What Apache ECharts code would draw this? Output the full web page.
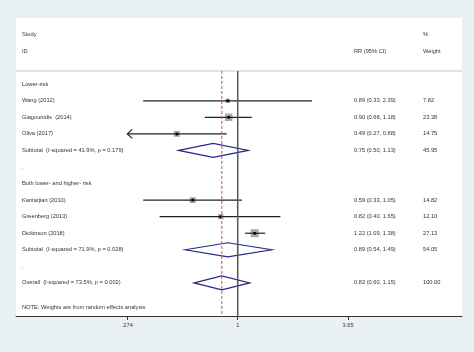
<!DOCTYPE html>
<html>
<head>
<meta charset="utf-8">
<script src="https://cdn.jsdelivr.net/npm/echarts@6/dist/echarts.min.js"></script>
<style>
  html, body { margin: 0; padding: 0; background: #fff; }
  #chart { width: 474px; height: 352px; }
</style>
</head>
<body>
<div id="chart"></div>
<script>
// studies
var studyNames = ['Wang (2012)', 'Giagounidis  (2014)', 'Oliva (2017)', 'Kantarjian (2010)', 'Greenberg (2013)', 'Dickinson (2018)'];
var studyRows = [1, 2, 3, 7, 8, 9];
var studyRR = [0.89, 0.90, 0.49, 0.59, 0.82, 1.22];
var studyLo = [0.33, 0.68, 0.27, 0.33, 0.40, 1.09];
var studyHi = [2.39, 1.18, 0.88, 1.05, 1.65, 1.38];
var studyWeight = [7.82, 23.38, 14.75, 14.82, 12.10, 27.13];

// pooled estimates
var poolNames = ['Subtotal  (I-squared = 41.9%, p = 0.179)', 'Subtotal  (I-squared = 71.9%, p = 0.028)', 'Overall  (I-squared = 73.5%, p = 0.002)'];
var poolRows = [4, 10, 12];
var poolRR = [0.75, 0.89, 0.83];
var poolLo = [0.50, 0.54, 0.60];
var poolHi = [1.13, 1.49, 1.15];
var poolWeight = [45.95, 54.05, 100.00];

// groups / misc rows
var groupNames = ['Lower-risk', 'Both lower- and higher- risk'];
var groupRows = [0, 6];
var blankRows = [5, 11];
var noteText = 'NOTE: Weights are from random effects analysis';

// x axis ticks (log scale)
var tickValues = [0.274, 1, 3.65];
var tickLabels = ['.274', '1', '3.65'];

var ln = Math.log;
var xMin = -2.6, xMax = 2.63;
var sepRow = -0.8;
var FONT = 'Liberation Sans';
var TXT = '#333';
var FS = 5.7;

var texts = [];
texts.push({ c: 0, r: -3, t: 'Study' });
texts.push({ c: 0, r: -2, t: 'ID' });
texts.push({ c: 1, r: -2, t: 'RR (95% CI)' });
texts.push({ c: 2, r: -3, t: '%' });
texts.push({ c: 2, r: -2, t: 'Weight' });
groupNames.forEach(function (g, i) { texts.push({ c: 0, r: groupRows[i], t: g }); });
blankRows.forEach(function (r) { texts.push({ c: 0, r: r, t: '.' }); });
function ci(rr, lo, hi) { return rr.toFixed(2) + ' (' + lo.toFixed(2) + ', ' + hi.toFixed(2) + ')'; }
studyNames.forEach(function (s, i) {
  texts.push({ c: 0, r: studyRows[i], t: s });
  texts.push({ c: 1, r: studyRows[i], t: ci(studyRR[i], studyLo[i], studyHi[i]) });
  texts.push({ c: 2, r: studyRows[i], t: studyWeight[i].toFixed(2) });
});
poolNames.forEach(function (s, i) {
  texts.push({ c: 0, r: poolRows[i], t: s });
  texts.push({ c: 1, r: poolRows[i], t: ci(poolRR[i], poolLo[i], poolHi[i]) });
  texts.push({ c: 2, r: poolRows[i], t: poolWeight[i].toFixed(2) });
});
texts.push({ c: 0, r: 13.5, t: noteText });
var colX = [22, 354, 423];

var chart = echarts.init(document.getElementById('chart'));

var option = {
  backgroundColor: '#eaf1f3',
  animation: false,
  grid: { left: 16, right: 12, top: 18, bottom: 36, show: true, backgroundColor: '#fff', borderWidth: 0 },
  xAxis: {
    type: 'value', min: xMin, max: xMax,
    splitLine: { show: false },
    axisLine: { onZero: false, lineStyle: { color: '#333', width: 1 } },
    axisTick: { customValues: tickValues.map(ln), length: 4, lineStyle: { color: '#333' } },
    axisLabel: {
      customValues: tickValues.map(ln),
      color: TXT, fontSize: FS, fontFamily: FONT, margin: 6,
      formatter: function (v) {
        var best = 0;
        tickValues.forEach(function (t, i) { if (Math.abs(ln(t) - v) < Math.abs(ln(tickValues[best]) - v)) best = i; });
        return tickLabels[best];
      }
    }
  },
  yAxis: { type: 'value', inverse: true, min: -4, max: 14, show: false },
  series: [
    {
      type: 'line', silent: true, showSymbol: false,
      data: [[xMin, sepRow], [xMax, sepRow]],
      lineStyle: { color: '#c8c8c8', width: 1 }
    },
    {
      type: 'line', silent: true, showSymbol: false,
      data: [[0, sepRow], [0, 14]],
      lineStyle: { color: '#555', width: 1.5 }
    },
    {
      type: 'line', silent: true, showSymbol: false,
      data: [[ln(poolRR[2]), sepRow], [ln(poolRR[2]), 14]],
      lineStyle: { color: '#b4566c', width: 1, type: [3, 2] }
    },
    {
      type: 'custom', silent: true,
      data: studyRR.map(function (v, i) { return [ln(Math.max(studyLo[i], tickValues[0])), ln(studyHi[i]), ln(v), studyRows[i], studyWeight[i], studyLo[i] < tickValues[0] ? 1 : 0]; }),
      encode: { x: [0, 1, 2], y: 3 },
      renderItem: function (params, api) {
        var a = api.coord([api.value(0), api.value(3)]);
        var b = api.coord([api.value(1), api.value(3)]);
        var m = api.coord([api.value(2), api.value(3)]);
        var s = 1.55 * Math.sqrt(api.value(4));
        var kids = [
          { type: 'rect', shape: { x: m[0] - s / 2, y: m[1] - s / 2, width: s, height: s }, style: { fill: '#a9a9a9' } },
          { type: 'line', shape: { x1: a[0], y1: a[1], x2: b[0], y2: b[1] }, style: { stroke: '#222', lineWidth: 1.2 } },
          { type: 'circle', shape: { cx: m[0], cy: m[1], r: 1.5 }, style: { fill: '#000' } }
        ];
        if (api.value(5)) {
          kids.push({ type: 'polyline', shape: { points: [[a[0] + 5, a[1] - 4.5], [a[0], a[1]], [a[0] + 5, a[1] + 4.5]] }, style: { stroke: '#222', lineWidth: 1.2, fill: null } });
        }
        return { type: 'group', children: kids };
      }
    },
    {
      type: 'custom', silent: true,
      data: poolRR.map(function (v, i) { return [ln(poolLo[i]), ln(poolHi[i]), ln(v), poolRows[i]]; }),
      encode: { x: [0, 1, 2], y: 3 },
      renderItem: function (params, api) {
        var a = api.coord([api.value(0), api.value(3)]);
        var b = api.coord([api.value(1), api.value(3)]);
        var m = api.coord([api.value(2), api.value(3)]);
        var h = 7;
        return {
          type: 'polygon',
          shape: { points: [[a[0], a[1]], [m[0], m[1] - h], [b[0], b[1]], [m[0], m[1] + h]] },
          style: { fill: 'rgba(255,255,255,0)', stroke: '#262a80', lineWidth: 1.2 }
        };
      }
    },
    {
      type: 'custom', silent: true,
      data: texts.map(function (t) { return [0, t.r]; }),
      encode: { x: 0, y: 1 },
      renderItem: function (params, api) {
        var t = texts[params.dataIndex];
        var p = api.coord([0, api.value(1)]);
        return {
          type: 'text',
          style: { text: t.t, x: colX[t.c], y: p[1], fill: TXT, fontSize: FS, fontFamily: FONT, verticalAlign: 'middle', align: 'left' }
        };
      }
    }
  ]
};

chart.setOption(option);
</script>
</body>
</html>
